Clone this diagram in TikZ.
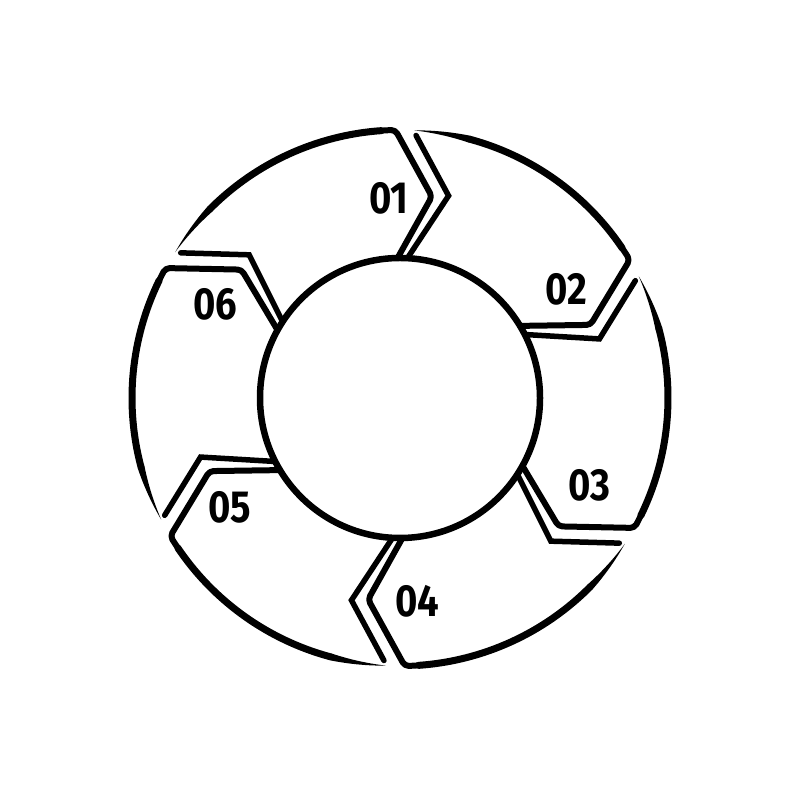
\documentclass[tikz,border=0pt]{standalone}
\usepackage{fontspec}
\usepackage{graphicx}
\setmainfont{Fira Sans}
\begin{document}
\begin{tikzpicture}[x=1pt,y=1pt,
  ring/.style={line width=6.5pt, line cap=round, line join=round},
  outerline/.style={line width=7pt, line cap=round, line join=round},
  chev/.style={line width=6pt, line cap=round, line join=round},
  notchline/.style={line width=5.5pt, line cap=round, line join=miter},
  lbl/.style={font=\fontsize{45}{45}\selectfont\bfseries, inner sep=0pt}]
\useasboundingbox (0,0) rectangle (800,800);
\coordinate (c) at (400,402);
\begin{scope}[shift={(c)}]
  \draw[ring] (0,0) circle[radius=140];
  \foreach \k in {0,...,5}{
    \pgfmathsetmacro{\b}{91-60*\k}
    \pgfmathsetmacro{\s}{\b+56}
    \pgfmathsetmacro{\sa}{\s-12}
    \pgfmathsetmacro{\tp}{\b-10}
    \pgfmathsetmacro{\na}{\b-4.5}
    \pgfmathsetmacro{\nt}{\b-14.5}
    % tapered start of outer arc
    \fill plot[domain=0:1, samples=12, variable=\u] ({\s-12*\u}:{268+3.5*\u})
      -- plot[domain=1:0, samples=12, variable=\u] ({\s-12*\u}:{268-3.5*\u}) -- cycle;
    % outer arc
    \draw[outerline] (\sa:268) arc[start angle=\sa, end angle=\b+3, radius=268];
    % outer corner and leading chevron
    \draw[chev, rounded corners=4pt] (\b+3:268) arc[start angle=\b+3, end angle=\b, radius=268]
      -- (\tp:204) -- (\b:140);
    % notch of the following segment
    \draw[notchline] (\na:263) -- (\nt:208) -- (\na:142);
  }
  \node[lbl] (l1) at (-11,200) {\scalebox{0.85}[1]{01}};
  \node[lbl] (l2) at (166,109) {\scalebox{0.85}[1]{02}};
  \node[lbl] (l3) at (189,-87) {\scalebox{0.85}[1]{03}};
  \node[lbl] (l4) at (17,-203) {\scalebox{0.85}[1]{04}};
  \node[lbl] (l5) at (-170,-109) {\scalebox{0.85}[1]{05}};
  \node[lbl] (l6) at (-185,94) {\scalebox{0.85}[1]{06}};
\end{scope}
\end{tikzpicture}
\end{document}
